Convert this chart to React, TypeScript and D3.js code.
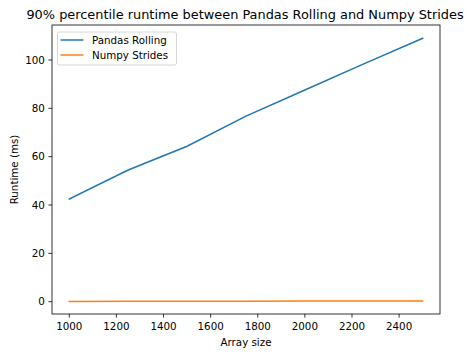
import React from "react";
import * as d3 from "d3";

const arraySizes = [1000, 1250, 1500, 1750, 2000, 2250, 2500];
const pandasRolling = [42.5, 54.5, 64.3, 76.8, 87.6, 98.4, 109.0];
const numpyStrides = [0.12, 0.15, 0.18, 0.22, 0.25, 0.28, 0.32];
const xTicks = [1000, 1200, 1400, 1600, 1800, 2000, 2200, 2400];
const yTicks = [0, 20, 40, 60, 80, 100];
const seriesNames = ["Pandas Rolling", "Numpy Strides"];
const seriesColors = ["#1f77b4", "#ff7f0e"];

const W = 474, H = 356;
const L = 52, R = 440, T = 25, B = 314;
const FONT = "DejaVu Sans, sans-serif";
const FS = 10.3;

export default function App() {
  const x = d3.scaleLinear().domain([1000, 2400]).range([69.3, 399.1]);
  const y = d3.scaleLinear().domain([0, 100]).range([301.7, 60]);
  const line = d3
    .line<number>()
    .x((_, i) => x(arraySizes[i]))
    .y((d) => y(d));
  const series = [pandasRolling, numpyStrides];

  return (
    <svg
      width={W}
      height={H}
      style={{ position: "absolute", left: 0, top: 0, background: "#fff" }}
      fontFamily={FONT}
    >
      <rect x={0} y={0} width={W} height={H} fill="#fff" />
      <text x={245} y={18.5} textAnchor="middle" fontSize={12.9} fill="#000">
        90% percentile runtime between Pandas Rolling and Numpy Strides
      </text>
      {series.map((s, k) => (
        <path
          key={k}
          d={line(s) || ""}
          fill="none"
          stroke={seriesColors[k]}
          strokeWidth={1.5}
          strokeLinecap="square"
        />
      ))}
      <rect x={L} y={T} width={R - L} height={B - T} fill="none" stroke="#000" strokeWidth={0.8} />
      {xTicks.map((t) => (
        <g key={t}>
          <line x1={x(t)} x2={x(t)} y1={B} y2={B + 3.6} stroke="#000" strokeWidth={0.8} />
          <text x={x(t)} y={B + 15.5} textAnchor="middle" fontSize={FS} fill="#000">
            {t}
          </text>
        </g>
      ))}
      {yTicks.map((t) => (
        <g key={t}>
          <line x1={L - 3.6} x2={L} y1={y(t)} y2={y(t)} stroke="#000" strokeWidth={0.8} />
          <text x={L - 7.2} y={y(t) + 3.7} textAnchor="end" fontSize={FS} fill="#000">
            {t}
          </text>
        </g>
      ))}
      <text x={(L + R) / 2} y={345.5} textAnchor="middle" fontSize={FS} fill="#000">
        Array size
      </text>
      <text
        transform={`translate(17.5, ${(T + B) / 2}) rotate(-90)`}
        textAnchor="middle"
        fontSize={FS}
        fill="#000"
      >
        Runtime (ms)
      </text>
      <g>
        <rect
          x={57.5}
          y={32}
          width={119}
          height={33}
          rx={2}
          fill="#fff"
          fillOpacity={0.8}
          stroke="#cccccc"
          strokeWidth={0.8}
        />
        {seriesNames.map((n, k) => (
          <g key={n}>
            <line
              x1={60.5}
              x2={83.5}
              y1={40 + k * 15}
              y2={40 + k * 15}
              stroke={seriesColors[k]}
              strokeWidth={1.5}
            />
            <text x={92} y={40 + k * 15 + 3.7} fontSize={FS} fill="#000">
              {n}
            </text>
          </g>
        ))}
      </g>
    </svg>
  );
}
